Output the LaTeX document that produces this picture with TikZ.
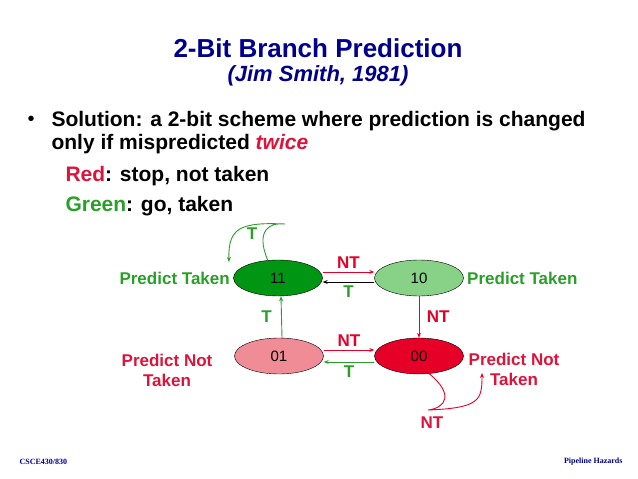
\documentclass[tikz,border=0pt]{standalone}
\usepackage{fontspec}
\setmainfont{Liberation Sans}
\usetikzlibrary{arrows.meta, shapes.geometric}
\definecolor{dkgreen}{RGB}{0,150,20}
\definecolor{ltgreen}{RGB}{135,210,135}
\definecolor{pinkred}{RGB}{240,140,150}
\definecolor{stopred}{RGB}{230,0,40}
\definecolor{txgreen}{RGB}{40,160,40}
\definecolor{txred}{RGB}{220,20,60}
\definecolor{navy}{RGB}{0,0,140}
\tikzset{
    state/.style={ellipse, draw=black, minimum width=89pt, minimum height=36pt, inner sep=0pt, font=\fontsize{15}{17}\selectfont},
    lbl/.style={font=\bfseries\fontsize{17}{20}\selectfont, align=center},
    tr/.style={-{Stealth[length=5pt,width=4pt]}, line width=0.9pt}
}
\begin{document}
\begin{tikzpicture}[x=1pt, y=-1pt]
        \useasboundingbox (0,0) rectangle (638,479);
        % Title
        \node [navy, font=\bfseries\fontsize{26}{30}\selectfont] (title) at (318,48) {2-Bit Branch Prediction};
        \node [navy, font=\bfseries\itshape\fontsize{22}{26}\selectfont] (sub) at (318,76) {(Jim Smith, 1981)};
        % Text
        \node [anchor=west, font=\fontsize{20}{24}\selectfont] (bul) at (24,121) {\textbullet};
        \node [anchor=west, font=\bfseries\fontsize{21}{24}\selectfont] (sol) at (48,121) {Solution: a 2-bit scheme where prediction is changed};
        \node [anchor=west, font=\bfseries\fontsize{21}{24}\selectfont] (only) at (48,144) {only if mispredicted \textcolor{txred}{\itshape twice}};
        \node [anchor=west, font=\bfseries\fontsize{21}{24}\selectfont] (red) at (62,176) {\textcolor{txred}{Red}: stop, not taken};
        \node [anchor=west, font=\bfseries\fontsize{21}{24}\selectfont] (green) at (62,206) {\textcolor{txgreen}{Green}: go, taken};
        % States
        \node [state, fill=dkgreen] (s11) at (278,278) {11};
        \node [state, fill=ltgreen] (s10) at (419,278) {10};
        \node [state, fill=pinkred] (s01) at (279,356) {01};
        \node [state, fill=stopred] (s00) at (419,356) {00};
        % Labels
        \node [lbl, txgreen, anchor=east] (p11) at (s11.west) {Predict Taken};
        \node [lbl, txgreen, anchor=west] (p10) at (s10.east) {Predict Taken};
        \node [lbl, txred] (p01) at (167,370) {Predict Not\\Taken};
        \node [lbl, txred] (p00) at (514,369) {Predict Not\\Taken};
        % Transitions
        \draw [tr, stopred] ([yshift=6pt]s11.east) -- ([yshift=6pt]s10.west) node [lbl, midway, above] {NT};
        \draw [tr, black] ([yshift=-4pt]s10.west) -- ([yshift=-4pt]s11.east) node [lbl, txgreen, midway, below] {T};
        \draw [tr, stopred] ([yshift=6pt]s01.east) -- ([yshift=6pt]s00.west) node [lbl, midway, above] {NT};
        \draw [tr, txgreen] ([yshift=-6pt]s00.west) -- ([yshift=-6pt]s01.east) node [lbl, midway, below] {T};
        \draw [tr, stopred] (s10.south) -- (s00.north) node [lbl, midway, right=4pt] {NT};
        \draw [tr, txgreen] ([xshift=3pt]s01.north) -- ([xshift=3pt]s11.south) node [lbl, midway, left=6pt] {T};
        % Self loops
        \coordinate (c11) at (229,262);
        \coordinate (c00) at (482,373);
        \draw [tr, txgreen] (s11.120) .. controls (255,230) and (270,222) .. (285,224)
            .. controls (240,222) and (228,228) .. (c11);
        \node [lbl, txgreen] (t11) at (252,234) {T};
        \draw [tr, stopred] (s00.-60) .. controls (455,395) and (445,408) .. (428,410)
            .. controls (480,408) and (482,400) .. (c00);
        \node [lbl, txred] (t00) at (432,423) {NT};
        % Footer
        \node [anchor=west, navy, font=\bfseries\fontsize{8}{10}\selectfont] (foot) at (16,462) {\fontspec{Liberation Serif}CSCE430/830};
        \node [anchor=east, navy, font=\bfseries\fontsize{8}{10}\selectfont] (pipe) at (626,462) {\fontspec{Liberation Serif}Pipeline Hazards};
    \end{tikzpicture}
\end{document}
